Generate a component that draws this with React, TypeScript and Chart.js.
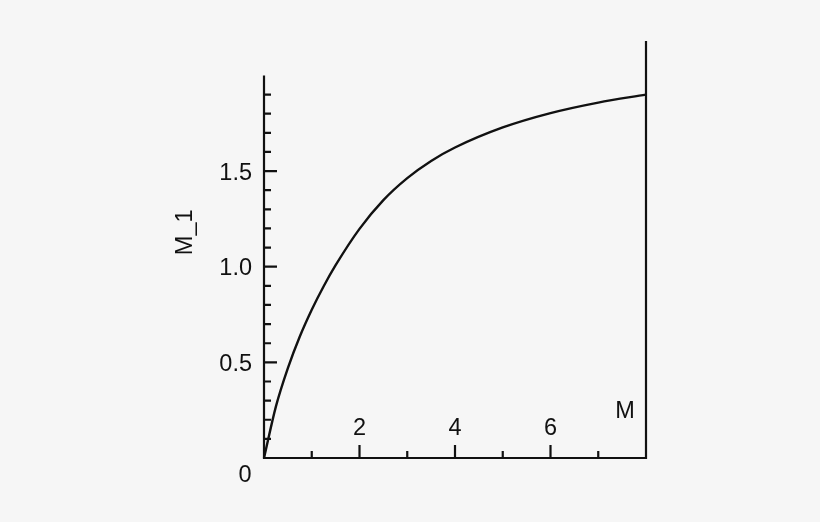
import React, { useEffect, useRef } from "react";
import { Chart, registerables } from "chart.js";

Chart.register(...registerables);

// Data
const mValues = [0, 0.25, 0.5, 0.75, 1, 1.25, 1.5, 2, 2.5, 3, 3.5, 4, 5, 6, 7, 8];
const m1Values = [0, 0.27, 0.47, 0.635, 0.775, 0.898, 1.008, 1.198, 1.348, 1.463, 1.553, 1.623, 1.728, 1.803, 1.858, 1.9];

const xMajorTicks = [2, 4, 6];
const xTickLabels = ["2", "4", "6"];
const xMinorTicks = [1, 3, 5, 7];
const yMajorTicks = [0.5, 1.0, 1.5];
const yTickLabels = ["0.5", "1.0", "1.5"];
const yMinorTicks = [0.1, 0.2, 0.3, 0.4, 0.6, 0.7, 0.8, 0.9, 1.1, 1.2, 1.3, 1.4, 1.6, 1.7, 1.8, 1.9];

const X_MIN = 0;
const X_MAX = 8;
const Y_MIN = 0;
const Y_AXIS_TOP = 2.0;
const Y_MAX = 2.18;

const xTitle = "M";
const yTitle = "M_1";
const originLabel = "0";

const FONT = '23.5px "Liberation Sans", Arial, sans-serif';
const BG = "#f6f6f6";
const INK = "#111";

const axesPlugin = {
  id: "customAxes",
  afterDatasetsDraw(chart: any) {
    const { ctx, scales } = chart;
    const xs = scales.x;
    const ys = scales.y;
    const x0 = xs.getPixelForValue(X_MIN);
    const xEnd = xs.getPixelForValue(X_MAX);
    const y0 = ys.getPixelForValue(Y_MIN);
    const yAxisTop = ys.getPixelForValue(Y_AXIS_TOP);
    const yTop = ys.getPixelForValue(Y_MAX);

    ctx.save();
    ctx.strokeStyle = INK;
    ctx.lineWidth = 2.2;
    ctx.lineCap = "butt";

    // axes lines
    ctx.beginPath();
    ctx.moveTo(x0, yAxisTop);
    ctx.lineTo(x0, y0);
    ctx.lineTo(xEnd, y0);
    ctx.moveTo(xEnd, y0 + 1);
    ctx.lineTo(xEnd, yTop);
    ctx.stroke();

    // y ticks
    ctx.beginPath();
    yMinorTicks.forEach((v) => {
      const py = ys.getPixelForValue(v);
      ctx.moveTo(x0, py);
      ctx.lineTo(x0 + 7, py);
    });
    yMajorTicks.forEach((v) => {
      const py = ys.getPixelForValue(v);
      ctx.moveTo(x0, py);
      ctx.lineTo(x0 + 13, py);
    });
    // x ticks
    xMinorTicks.forEach((v) => {
      const px = xs.getPixelForValue(v);
      ctx.moveTo(px, y0);
      ctx.lineTo(px, y0 - 7);
    });
    xMajorTicks.forEach((v) => {
      const px = xs.getPixelForValue(v);
      ctx.moveTo(px, y0);
      ctx.lineTo(px, y0 - 13);
    });
    ctx.stroke();

    // labels
    ctx.fillStyle = INK;
    ctx.font = FONT;
    ctx.textAlign = "right";
    ctx.textBaseline = "alphabetic";
    yMajorTicks.forEach((v, i) => {
      ctx.fillText(yTickLabels[i], x0 - 12, ys.getPixelForValue(v) + 8.5);
    });

    ctx.textAlign = "center";
    xMajorTicks.forEach((v, i) => {
      ctx.fillText(xTickLabels[i], xs.getPixelForValue(v), y0 - 23);
    });

    ctx.fillText(originLabel, x0 - 19, y0 + 24);
    ctx.fillText(xTitle, xEnd - 21, y0 - 40);

    ctx.save();
    ctx.translate(x0 - 72, ys.getPixelForValue(1.18));
    ctx.rotate(-Math.PI / 2);
    ctx.textAlign = "center";
    ctx.textBaseline = "alphabetic";
    ctx.fillText(yTitle, 0, 0);
    ctx.restore();

    ctx.restore();
  },
};

export default function App() {
  const canvasRef = useRef<HTMLCanvasElement | null>(null);

  useEffect(() => {
    document.body.style.margin = "0";
    document.body.style.background = BG;
    const canvas = canvasRef.current;
    if (!canvas) return;
    const chart = new Chart(canvas, {
      type: "line",
      data: {
        datasets: [
          {
            data: mValues.map((m, i) => ({ x: m, y: m1Values[i] })),
            borderColor: INK,
            borderWidth: 2.4,
            pointRadius: 0,
            fill: false,
            cubicInterpolationMode: "monotone",
            clip: false as any,
          },
        ],
      },
      options: {
        responsive: false,
        animation: false,
        devicePixelRatio: 1,
        layout: { padding: { left: 264, right: 174, top: 41, bottom: 64 } },
        plugins: { legend: { display: false }, tooltip: { enabled: false } },
        scales: {
          x: { type: "linear", min: X_MIN, max: X_MAX, display: false },
          y: { type: "linear", min: Y_MIN, max: Y_MAX, display: false },
        },
      },
      plugins: [axesPlugin],
    });
    return () => chart.destroy();
  }, []);

  return (
    <div style={{ width: 820, height: 522, background: BG, position: "relative" }}>
      <canvas ref={canvasRef} width={820} height={522} style={{ display: "block" }} />
    </div>
  );
}
